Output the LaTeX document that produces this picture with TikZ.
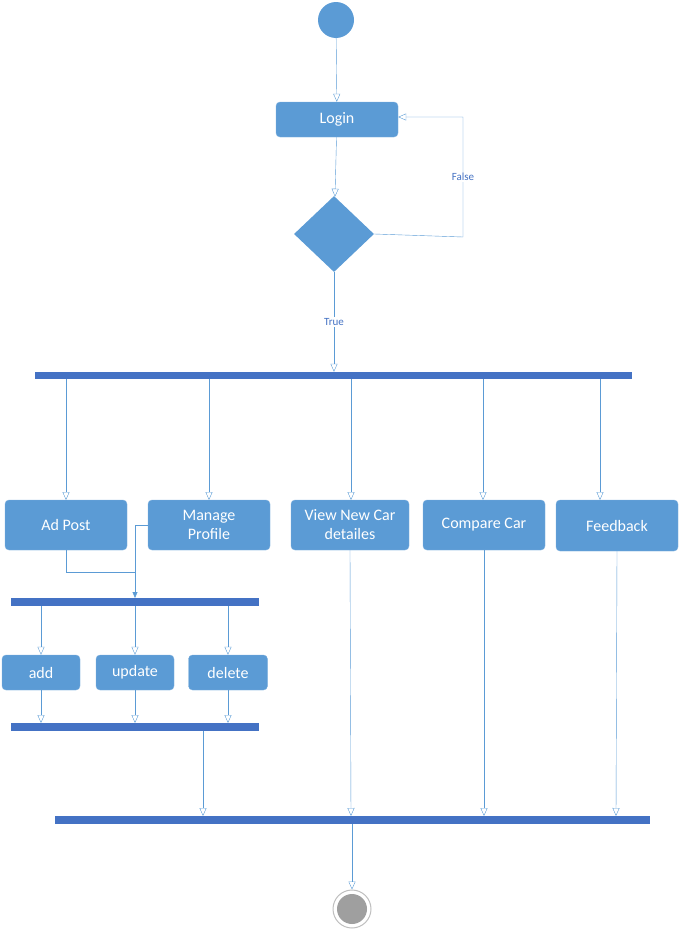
\documentclass[tikz,border=0pt]{standalone}
\usepackage{fontspec}
\setmainfont{Carlito}
\usetikzlibrary{arrows.meta,shapes.geometric}
\definecolor{boxblue}{HTML}{5B9BD5}
\definecolor{barblue}{HTML}{4472C4}
\tikzset{
  act/.style={draw=boxblue!80!white, fill=boxblue, rounded corners=4pt, text=white, align=center,
    font=\fontsize{16}{19}\selectfont, inner sep=0pt},
  bar/.style={fill=barblue, draw=none, inner sep=0pt},
  flow/.style={draw=boxblue, thin, -{Triangle[open,length=8pt,width=7pt]}},
  lbl/.style={fill=white, text=barblue, font=\fontsize{11}{13}\selectfont, inner sep=1pt}
}

\begin{document}
\begin{tikzpicture}[x=1pt,y=-1pt]
      \useasboundingbox (0,0) rectangle (680,929);
      % start and login
      \node[circle, fill=boxblue, minimum size=36pt, inner sep=0pt] (start) at (336,20) {};
      \node[act, minimum width=122pt, minimum height=35pt] (login) at (337,119.5) {Login};
      \node[diamond, fill=boxblue, minimum width=80pt, minimum height=76pt, inner sep=0pt] (check) at (334,234) {};
      \draw[flow] (start) -- (login);
      \draw[flow] (login) -- (check);
      \coordinate (fr) at (463,237);
      \coordinate (fu) at (463,117);
      \draw[flow] (check.east) -- (fr) -- node[lbl]{False} (fu) -- (login.east |- fu);

      % bars
      \node[bar, minimum width=597pt, minimum height=7pt] (fork) at (333.5,375.5) {};
      \node[bar, minimum width=248pt, minimum height=8pt] (fork2) at (135,602) {};
      \node[bar, minimum width=248pt, minimum height=8pt] (join2) at (135,727) {};
      \node[bar, minimum width=595pt, minimum height=8pt] (join) at (352.5,820) {};
      \draw[flow] (check.south) -- node[lbl]{True} (check.south |- fork.north);

      % activities
      \node[act, minimum width=122pt, minimum height=50pt] (adpost) at (66,525) {Ad Post};
      \node[act, minimum width=122pt, minimum height=50pt] (profile) at (209,525) {Manage\\Profile};
      \node[act, minimum width=118pt, minimum height=50pt] (viewcar) at (350,525) {View New Car\\detailes};
      \node[act, minimum width=122pt, minimum height=50pt] (compare) at (484,525) {Compare Car};
      \node[act, minimum width=122pt, minimum height=51pt] (feedback) at (617,525.5) {Feedback};
      \foreach \n/\x in {adpost/66, profile/209, viewcar/351, compare/483, feedback/600}
        \draw[flow] (\x,379) -- (\x,500);

      % ad post / profile merge
      \coordinate (m) at (135,572);
      \draw[boxblue, thin] (adpost.south) -- (66,572) -- (m);
      \draw[boxblue, thin, -{Triangle[length=6pt,width=5pt]}] (profile.west) -- (135,525) -- (135,598);

      % add update delete
      \node[act, minimum width=78pt, minimum height=35pt] (add) at (41,672.5) {add};
      \node[act, minimum width=78pt, minimum height=35pt] (update) at (135,672.5) {update};
      \node[act, minimum width=79pt, minimum height=35pt] (delete) at (228,672.5) {delete};
      \foreach \n/\x in {add/41, update/135, delete/228} {
        \draw[flow] (\x,606) -- (\n.north);
        \draw[flow] (\n.south) -- (\x,723);
      }

      % join
      \draw[flow] (203,731) -- (203,816);
      \draw[flow] (viewcar.south) -- (351,816);
      \draw[flow] (compare.south) -- (484,816);
      \draw[flow] (feedback.south) -- (616,816);

      % end
      \node[circle, draw=gray!50, fill=white, line width=1pt, minimum size=38pt, inner sep=0pt] (stop) at (352,909) {};
      \fill[gray!75] (stop) circle (15pt);
      \draw[flow] (352,824) -- (stop.north);
\end{tikzpicture}
\end{document}
